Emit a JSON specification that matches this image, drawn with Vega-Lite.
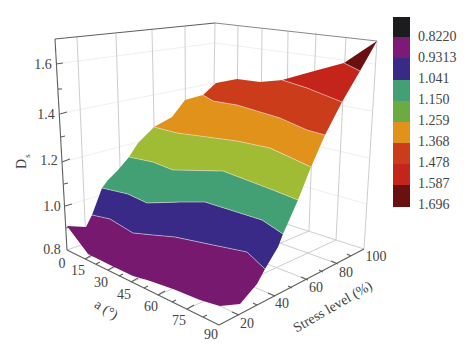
{"$schema":"https://vega.github.io/schema/vega-lite/v6.json","width":474,"height":357,"padding":0,"autosize":{"type":"fit","contains":"padding"},"background":"white","view":{"stroke":null},
"datasets":{
"rules":[
{"k":"faint","x":63,"y":63,"x2":215,"y2":43},{"k":"faint","x":67,"y":112,"x2":214,"y2":83},{"k":"faint","x":70,"y":160,"x2":213,"y2":122},{"k":"faint","x":72,"y":204,"x2":213,"y2":161},
{"k":"faint","x":215,"y":43,"x2":375,"y2":64},{"k":"faint","x":214,"y":83,"x2":372,"y2":111},{"k":"faint","x":213,"y":122,"x2":369,"y2":158},{"k":"faint","x":213,"y":161,"x2":367,"y2":204},
{"k":"grid","x":77,"y":37,"x2":86,"y2":243},{"k":"grid","x":116,"y":34,"x2":122,"y2":231},{"k":"grid","x":152,"y":30,"x2":156,"y2":220},{"k":"grid","x":185,"y":27,"x2":186,"y2":209},
{"k":"grid","x":238,"y":26,"x2":236,"y2":208},{"k":"grid","x":262,"y":29,"x2":260,"y2":215},{"k":"grid","x":288,"y":31,"x2":286,"y2":224},{"k":"grid","x":316,"y":33,"x2":309,"y2":231},{"k":"grid","x":346,"y":37,"x2":336,"y2":240},
{"k":"grid","x":239,"y":315,"x2":86,"y2":243},{"k":"grid","x":275,"y":296,"x2":122,"y2":231},{"k":"grid","x":308,"y":280,"x2":156,"y2":220},{"k":"grid","x":338,"y":264,"x2":186,"y2":209},
{"k":"grid","x":85,"y":259,"x2":236,"y2":208},{"k":"grid","x":108,"y":270,"x2":260,"y2":215},{"k":"grid","x":131,"y":282,"x2":286,"y2":224},{"k":"grid","x":158,"y":295,"x2":309,"y2":231},{"k":"grid","x":187,"y":309,"x2":336,"y2":240},
{"k":"grid","x":215,"y":23,"x2":212,"y2":200},{"k":"grid","x":67,"y":250,"x2":212,"y2":200},{"k":"grid","x":212,"y":200,"x2":364,"y2":249},{"k":"grid","x":377,"y":41,"x2":364,"y2":249},
{"k":"axis","x":55,"y":39,"x2":67,"y2":250},{"k":"axis","x":55,"y":39,"x2":215,"y2":23},{"k":"top","x":215,"y":23,"x2":377,"y2":41},{"k":"axis","x":67,"y":250,"x2":219,"y2":325},{"k":"axis","x":219,"y":325,"x2":364,"y2":249},
{"k":"axis","x":56,"y":64,"x2":63,"y2":63},{"k":"axis","x":58,"y":89,"x2":62,"y2":89},{"k":"axis","x":60,"y":114,"x2":67,"y2":112},{"k":"axis","x":61,"y":137,"x2":65,"y2":136},{"k":"axis","x":62,"y":162,"x2":70,"y2":159},{"k":"axis","x":64,"y":184,"x2":68,"y2":183},{"k":"axis","x":65,"y":206,"x2":72,"y2":204},{"k":"axis","x":66,"y":228,"x2":70,"y2":227},
{"k":"axis","x":85,"y":259,"x2":92,"y2":255},{"k":"axis","x":108,"y":270,"x2":115,"y2":266},{"k":"axis","x":131,"y":282,"x2":138,"y2":278},{"k":"axis","x":158,"y":295,"x2":165,"y2":291},{"k":"axis","x":187,"y":309,"x2":194,"y2":305},
{"k":"axis","x":96,"y":264,"x2":100,"y2":262},{"k":"axis","x":119,"y":276,"x2":123,"y2":274},{"k":"axis","x":144,"y":288,"x2":148,"y2":286},{"k":"axis","x":172,"y":302,"x2":176,"y2":300},{"k":"axis","x":203,"y":317,"x2":207,"y2":315},
{"k":"axis","x":239,"y":315,"x2":232,"y2":312},{"k":"axis","x":275,"y":296,"x2":268,"y2":293},{"k":"axis","x":308,"y":280,"x2":301,"y2":277},{"k":"axis","x":338,"y":264,"x2":331,"y2":261},
{"k":"axis","x":257,"y":305,"x2":253,"y2":303},{"k":"axis","x":292,"y":288,"x2":288,"y2":286},{"k":"axis","x":323,"y":272,"x2":319,"y2":270},{"k":"axis","x":351,"y":256,"x2":347,"y2":254}
],
"bands":[
{"b":"b1","x":67,"y":226,"y2":226},{"b":"b1","x":86,"y":227,"y2":251.3},{"b":"b1","x":88,"y":223,"y2":254},{"b":"b1","x":92,"y":215,"y2":256},{"b":"b1","x":110,"y":219,"y2":265},{"b":"b1","x":133,"y":233,"y2":276},{"b":"b1","x":147,"y":234.4,"y2":280},{"b":"b1","x":153,"y":235,"y2":282.1},{"b":"b1","x":173,"y":236.8,"y2":289},{"b":"b1","x":175,"y":237,"y2":289.8},{"b":"b1","x":200,"y":242.3,"y2":300},{"b":"b1","x":213,"y":245,"y2":303.9},{"b":"b1","x":220,"y":246.4,"y2":306},{"b":"b1","x":240,"y":250.6,"y2":304},{"b":"b1","x":247,"y":252,"y2":295.8},{"b":"b1","x":257,"y":261.4,"y2":284},{"b":"b1","x":265,"y":269,"y2":269},
{"b":"b2","x":92,"y":215,"y2":215},{"b":"b2","x":102,"y":188,"y2":217.2},{"b":"b2","x":110,"y":189.8,"y2":219},{"b":"b2","x":128,"y":194,"y2":230},{"b":"b2","x":133,"y":196.4,"y2":233},{"b":"b2","x":147,"y":203,"y2":234.4},{"b":"b2","x":153,"y":202.8,"y2":235},{"b":"b2","x":175,"y":202.2,"y2":237},{"b":"b2","x":180,"y":202,"y2":238},{"b":"b2","x":205,"y":202,"y2":243.3},{"b":"b2","x":213,"y":204.5,"y2":245},{"b":"b2","x":247,"y":215.3,"y2":252},{"b":"b2","x":262,"y":220,"y2":266.2},{"b":"b2","x":265,"y":222,"y2":269},{"b":"b2","x":278,"y":230.7,"y2":247},{"b":"b2","x":283,"y":234,"y2":234},
{"b":"b3","x":102,"y":188,"y2":188},{"b":"b3","x":108,"y":180,"y2":189.4},{"b":"b3","x":118,"y":170,"y2":191.7},{"b":"b3","x":128,"y":158.2,"y2":194},{"b":"b3","x":129,"y":157,"y2":194.5},{"b":"b3","x":147,"y":160.75,"y2":203},{"b":"b3","x":153,"y":162,"y2":202.8},{"b":"b3","x":173,"y":170,"y2":202.2},{"b":"b3","x":180,"y":170.1,"y2":202},{"b":"b3","x":205,"y":170.6,"y2":202},{"b":"b3","x":223,"y":171,"y2":207.7},{"b":"b3","x":262,"y":185.8,"y2":220},{"b":"b3","x":273,"y":190,"y2":227.3},{"b":"b3","x":283,"y":194,"y2":234},{"b":"b3","x":298,"y":200,"y2":200},
{"b":"b4","x":129,"y":157,"y2":157},{"b":"b4","x":138,"y":143,"y2":158.9},{"b":"b4","x":153,"y":128,"y2":162},{"b":"b4","x":154,"y":127,"y2":162.4},{"b":"b4","x":173,"y":132,"y2":170},{"b":"b4","x":177,"y":133,"y2":170.1},{"b":"b4","x":200,"y":136,"y2":170.5},{"b":"b4","x":223,"y":139,"y2":171},{"b":"b4","x":237,"y":141,"y2":176.3},{"b":"b4","x":270,"y":148,"y2":188.9},{"b":"b4","x":273,"y":149.4,"y2":190},{"b":"b4","x":298,"y":161.1,"y2":200},{"b":"b4","x":311,"y":167,"y2":167},
{"b":"b5","x":154,"y":127,"y2":127},{"b":"b5","x":172,"y":117,"y2":131.7},{"b":"b5","x":177,"y":110.5,"y2":133},{"b":"b5","x":185,"y":100,"y2":134.2},{"b":"b5","x":200,"y":95.8,"y2":136},{"b":"b5","x":203,"y":95,"y2":136.4},{"b":"b5","x":213,"y":101,"y2":137.7},{"b":"b5","x":237,"y":105,"y2":141},{"b":"b5","x":270,"y":115,"y2":148},{"b":"b5","x":280,"y":118,"y2":152.6},{"b":"b5","x":307,"y":130,"y2":165.1},{"b":"b5","x":311,"y":131.1,"y2":167},{"b":"b5","x":325,"y":135,"y2":135},
{"b":"b6","x":203,"y":95,"y2":95},{"b":"b6","x":213,"y":85.8,"y2":101},{"b":"b6","x":216,"y":83,"y2":101.5},{"b":"b6","x":237,"y":79,"y2":105},{"b":"b6","x":260,"y":82,"y2":111.9},{"b":"b6","x":280,"y":80.2,"y2":118},{"b":"b6","x":282,"y":80,"y2":118.9},{"b":"b6","x":307,"y":88,"y2":130},{"b":"b6","x":325,"y":95,"y2":135},{"b":"b6","x":342,"y":102,"y2":102},
{"b":"b7","x":282,"y":80,"y2":80},{"b":"b7","x":307,"y":73,"y2":88},{"b":"b7","x":318,"y":70,"y2":92.4},{"b":"b7","x":342,"y":63.5,"y2":102},{"b":"b7","x":344,"y":63,"y2":98.6},{"b":"b7","x":360,"y":71,"y2":71},
{"b":"b8","x":344,"y":63,"y2":63},{"b":"b8","x":360,"y":52.3,"y2":71},{"b":"b8","x":377,"y":41,"y2":41}
],
"contours":[
{"c":"C1","x":92,"y":215},{"c":"C1","x":110,"y":219},{"c":"C1","x":133,"y":233},{"c":"C1","x":153,"y":235},{"c":"C1","x":175,"y":237},{"c":"C1","x":213,"y":245},{"c":"C1","x":247,"y":252},{"c":"C1","x":265,"y":269},
{"c":"C2","x":102,"y":188},{"c":"C2","x":128,"y":194},{"c":"C2","x":147,"y":203},{"c":"C2","x":180,"y":202},{"c":"C2","x":205,"y":202},{"c":"C2","x":262,"y":220},{"c":"C2","x":283,"y":234},
{"c":"C3","x":129,"y":157},{"c":"C3","x":153,"y":162},{"c":"C3","x":173,"y":170},{"c":"C3","x":223,"y":171},{"c":"C3","x":273,"y":190},{"c":"C3","x":298,"y":200},
{"c":"C4","x":154,"y":127},{"c":"C4","x":177,"y":133},{"c":"C4","x":200,"y":136},{"c":"C4","x":237,"y":141},{"c":"C4","x":270,"y":148},{"c":"C4","x":311,"y":167},
{"c":"C5","x":203,"y":95},{"c":"C5","x":213,"y":101},{"c":"C5","x":237,"y":105},{"c":"C5","x":280,"y":118},{"c":"C5","x":307,"y":130},{"c":"C5","x":325,"y":135},
{"c":"C6","x":282,"y":80},{"c":"C6","x":307,"y":88},{"c":"C6","x":342,"y":102},
{"c":"C7","x":344,"y":63},{"c":"C7","x":360,"y":71}
],
"legend":[
{"b":"b0","x":393,"x2":410,"y":17,"y2":37},{"b":"l1","x":393,"x2":410,"y":37,"y2":58},{"b":"b2","x":393,"x2":410,"y":58,"y2":80},{"b":"b3","x":393,"x2":410,"y":80,"y2":101},{"b":"l4","x":393,"x2":410,"y":101,"y2":122},{"b":"b5","x":393,"x2":410,"y":122,"y2":143},{"b":"b6","x":393,"x2":410,"y":143,"y2":164},{"b":"b7","x":393,"x2":410,"y":164,"y2":185},{"b":"b8","x":393,"x2":410,"y":185,"y2":207}
],
"legendText":[{"t":"0.8220","x":418,"y":37},{"t":"0.9313","x":418,"y":58},{"t":"1.041","x":418,"y":79},{"t":"1.150","x":418,"y":100},{"t":"1.259","x":418,"y":121},{"t":"1.368","x":418,"y":142},{"t":"1.478","x":418,"y":163},{"t":"1.587","x":418,"y":184},{"t":"1.696","x":418,"y":205}],
"tickText":[{"t":"1.6","x":43,"y":65},{"t":"1.4","x":46,"y":115},{"t":"1.2","x":49,"y":161},{"t":"1.0","x":52,"y":207},{"t":"0.8","x":52,"y":250},{"t":"0","x":62,"y":264},{"t":"15","x":78,"y":271},{"t":"30","x":101,"y":283},{"t":"45","x":124,"y":295},{"t":"60","x":151,"y":307},{"t":"75","x":179,"y":321},{"t":"90","x":211,"y":335},{"t":"20","x":247,"y":324},{"t":"40","x":282,"y":304},{"t":"60","x":316,"y":288},{"t":"80","x":346,"y":273},{"t":"100","x":376,"y":257}]
},
"encoding":{
"x":{"field":"x","type":"quantitative","scale":{"domain":[0,474],"nice":false,"zero":false},"axis":null},
"y":{"field":"y","type":"quantitative","stack":null,"scale":{"domain":[0,357],"reverse":true,"nice":false,"zero":false},"axis":null}
},
"layer":[
{"data":{"name":"rules"},"transform":[{"filter":"datum.k==='faint'"}],"mark":{"type":"rule","stroke":"#efefef","strokeWidth":1},"encoding":{"x2":{"field":"x2"},"y2":{"field":"y2"}}},
{"data":{"name":"rules"},"transform":[{"filter":"datum.k==='grid'"}],"mark":{"type":"rule","stroke":"#cdcdd0","strokeWidth":1},"encoding":{"x2":{"field":"x2"},"y2":{"field":"y2"}}},
{"data":{"name":"rules"},"transform":[{"filter":"datum.k==='top'"}],"mark":{"type":"rule","stroke":"#8a8a8a","strokeWidth":1.2},"encoding":{"x2":{"field":"x2"},"y2":{"field":"y2"}}},
{"data":{"name":"rules"},"transform":[{"filter":"datum.k==='axis'"}],"mark":{"type":"rule","stroke":"#5e5e5e","strokeWidth":1.1},"encoding":{"x2":{"field":"x2"},"y2":{"field":"y2"}}},
{"data":{"name":"bands"},"mark":{"type":"area","orient":"vertical"},"encoding":{"y2":{"field":"y2"},"color":{"field":"b","type":"nominal","legend":null,"scale":{"domain":["b0","b1","l1","b2","b3","l4","b4","b5","b6","b7","b8"],"range":["#1c1c1e","#77196f","#7d1a78","#392a88","#43a075","#6cab42","#a0bc34","#e0921a","#cb3c1b","#c5241a","#6b1010"]}}}},
{"data":{"name":"contours"},"mark":{"type":"line","stroke":"#ece4e0","strokeOpacity":0.55,"strokeWidth":1},"encoding":{"detail":{"field":"c"}}},
{"data":{"name":"legend"},"mark":{"type":"rect"},"encoding":{"x2":{"field":"x2"},"y2":{"field":"y2"},"color":{"field":"b","type":"nominal","legend":null}}},
{"data":{"name":"legendText"},"mark":{"type":"text","align":"left","baseline":"middle","font":"Liberation Serif","fontSize":14,"fill":"#444444"},"encoding":{"text":{"field":"t"}}},
{"data":{"name":"tickText"},"mark":{"type":"text","align":"center","baseline":"middle","font":"Liberation Serif","fontSize":14,"fill":"#444444"},"encoding":{"text":{"field":"t"}}},
{"data":{"values":[{"t":"D","x":22,"y":164}]},"mark":{"type":"text","angle":270,"align":"center","baseline":"middle","font":"Liberation Serif","fontSize":14,"fill":"#444444"},"encoding":{"text":{"field":"t"}}},
{"data":{"values":[{"t":"s","x":27,"y":156}]},"mark":{"type":"text","angle":270,"align":"center","baseline":"middle","font":"Liberation Serif","fontSize":9,"fill":"#444444"},"encoding":{"text":{"field":"t"}}},
{"data":{"values":[{"t":"a (°)","x":106,"y":310}]},"mark":{"type":"text","angle":32,"align":"center","baseline":"middle","font":"Liberation Serif","fontSize":14,"fill":"#444444"},"encoding":{"text":{"field":"t"}}},
{"data":{"values":[{"t":"Stress level (%)","x":333,"y":307}]},"mark":{"type":"text","angle":330,"align":"center","baseline":"middle","font":"Liberation Serif","fontSize":14,"fill":"#444444"},"encoding":{"text":{"field":"t"}}}
]}
